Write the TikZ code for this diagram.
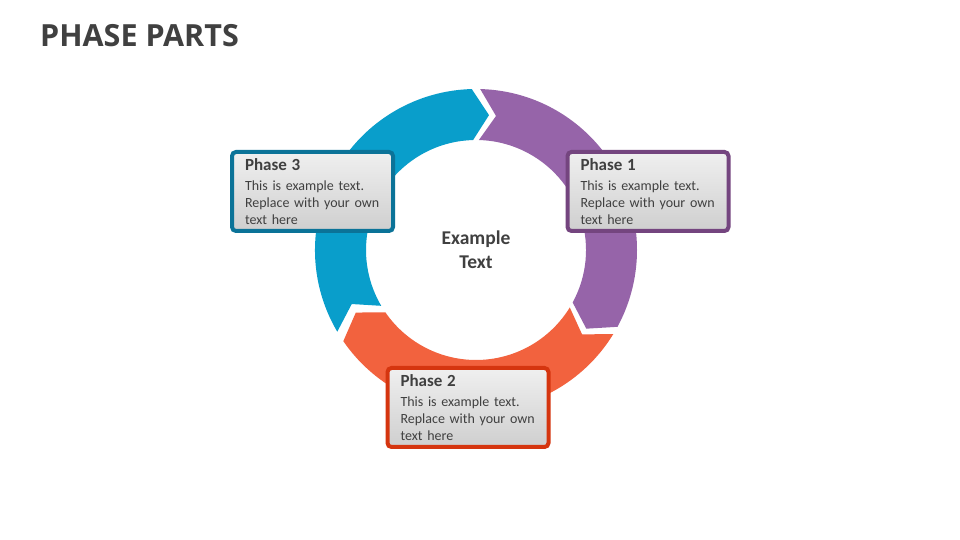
\documentclass[tikz,border=0pt]{standalone}
\usepackage{fontspec}
\setmainfont{Carlito}
\newfontfamily\headfont{Open Sans}
\usetikzlibrary{positioning}

\definecolor{ringblue}{RGB}{9,158,203}
\definecolor{ringpurple}{RGB}{150,100,169}
\definecolor{ringorange}{RGB}{242,98,62}
\definecolor{edgeblue}{RGB}{11,115,152}
\definecolor{edgepurple}{RGB}{116,69,127}
\definecolor{edgered}{RGB}{213,53,15}
\definecolor{inkgray}{RGB}{64,64,64}

% one ring part: tail angle, head angle
\newcommand{\ringpart}[3]{%
  \fill[#3] ($(C)+(#1:161pt)$) arc[start angle=#1, end angle=#2, radius=161pt]
    -- ($(C)+(#2-7:135.5pt)$) -- ($(C)+(#2:110pt)$)
    arc[start angle=#2, end angle=#1, radius=110pt]
    -- ($(C)+(#1-7:135.5pt)$) -- cycle;}
\newcommand{\phasename}[1]{{\fontsize{17}{20}\selectfont\bfseries #1}\\[3pt]}
\usetikzlibrary{calc}

\begin{document}
\begin{tikzpicture}[x=1pt, y=1pt,
    phasebox/.style={draw=#1, line width=4pt, rounded corners=4pt,
      top color=gray!12, bottom color=gray!38, minimum width=159pt,
      minimum height=79pt, text width=135pt, inner xsep=13pt, align=left,
      text=inkgray, font=\fontsize{14}{17}\selectfont}]
    \useasboundingbox[fill=white] (0,0) rectangle (960,540);

    \node[anchor=base west, inner sep=0, text=inkgray,
      font=\headfont\fontsize{30.5}{36}\selectfont\bfseries] (title) at (40,493) {PHASE PARTS};

    \coordinate (C) at (476,290);

    \ringpart{210.5}{91.5}{ringblue}
    \ringpart{88.5}{-28.5}{ringpurple}
    \ringpart{-31.5}{-145.5}{ringorange}

    \node[align=center, text=inkgray, font=\fontsize{19.5}{24}\selectfont\bfseries]
      (centre) at (C) {Example\\Text};

    \node[phasebox=edgepurple] (ph1) at (648,348.5)
      {\phasename{Phase 1}This is example text.\\Replace with your own\\text here};
    \node[phasebox=edgered] (ph2) at (468,132.5)
      {\phasename{Phase 2}This is example text.\\Replace with your own\\text here};
    \node[phasebox=edgeblue] (ph3) at (312.5,348.5)
      {\phasename{Phase 3}This is example text.\\Replace with your own\\text here};
\end{tikzpicture}
\end{document}
